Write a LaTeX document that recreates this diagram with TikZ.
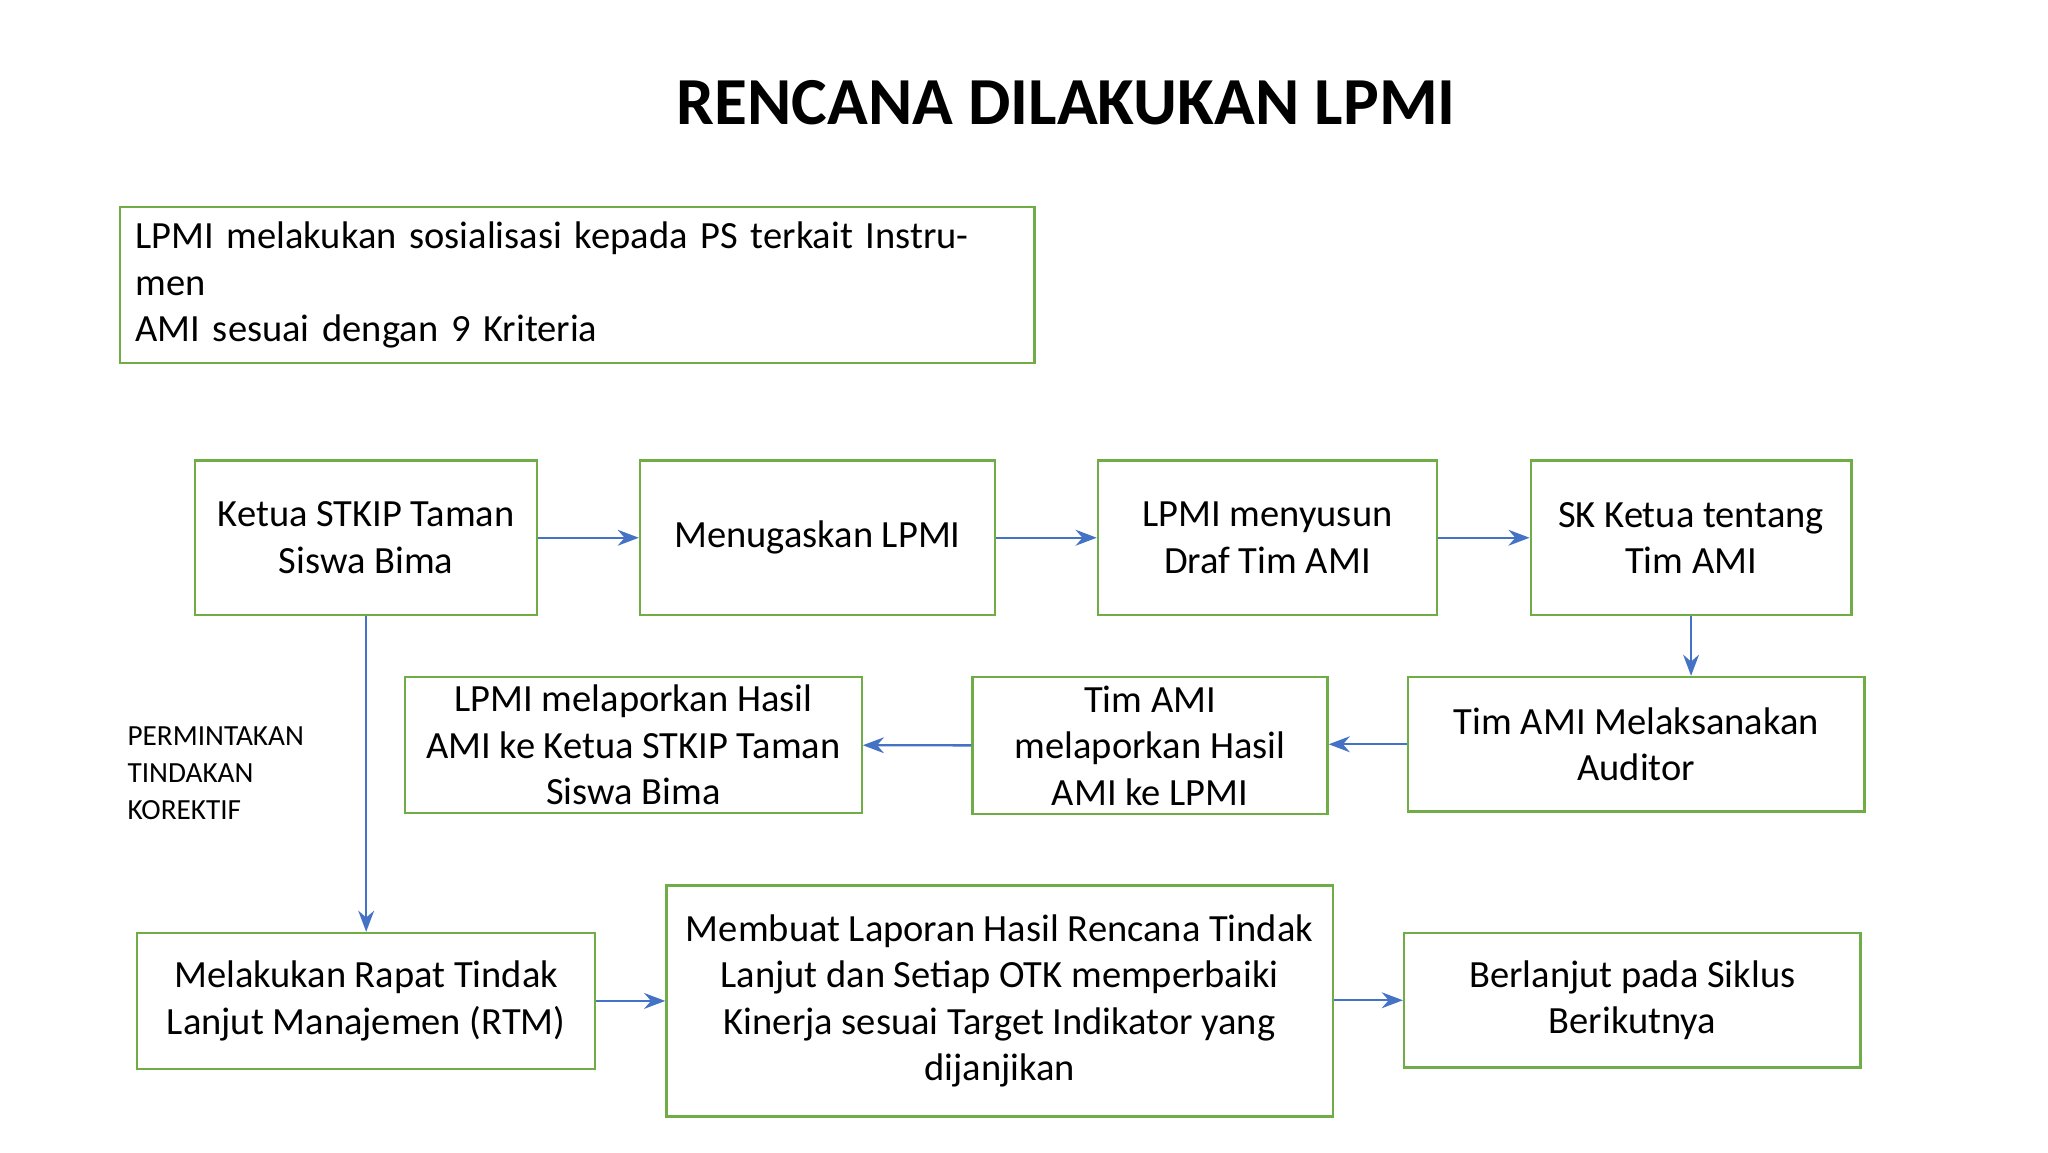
\documentclass[tikz,border=0pt]{standalone}
\usepackage{fontspec}
\setmainfont{Carlito}
\usetikzlibrary{arrows.meta}
\definecolor{gb}{RGB}{112,173,71}
\definecolor{ab}{RGB}{68,114,196}
\begin{document}
\begin{tikzpicture}[x=0.1mm,y=-0.1mm,
  box/.style={draw=gb,line width=0.5pt,align=center,inner sep=0pt,font=\fontsize{8.3pt}{10pt}\selectfont},
  arr/.style={draw=ab,line width=0.5pt,-{Stealth[length=1.6mm,width=1.2mm]}}]
\useasboundingbox[fill=white] (0,0) rectangle (1552,873);
\node[font=\fontsize{14.5pt}{17pt}\selectfont\bfseries] (t) at (808,78) {RENCANA DILAKUKAN LPMI};
\node[box,minimum width=69.3mm,minimum height=11.8mm,align=left,text width=67mm] (a) at (437.5,216) {LPMI melakukan sosialisasi kepada PS terkait Instrumen\\AMI sesuai dengan 9 Kriteria};
\node[box,minimum width=25.9mm,minimum height=11.7mm] (b1) at (277.5,407.5) {Ketua STKIP Taman\\Siswa Bima};
\node[box,minimum width=26.9mm,minimum height=11.7mm] (b2) at (619.5,407.5) {Menugaskan LPMI};
\node[box,minimum width=25.7mm,minimum height=11.7mm] (b3) at (960.5,407.5) {LPMI menyusun\\Draf Tim AMI};
\node[box,minimum width=24.3mm,minimum height=11.7mm] (b4) at (1281.5,407.5) {SK Ketua tentang\\Tim AMI};
\node[box,minimum width=34.6mm,minimum height=10.2mm] (c3) at (1240,564) {Tim AMI Melaksanakan\\Auditor};
\node[box,minimum width=26.9mm,minimum height=10.4mm] (c2) at (871.5,565) {Tim AMI\\melaporkan Hasil\\AMI ke LPMI};
\node[box,minimum width=34.6mm,minimum height=10.3mm] (c1) at (480,564.5) {LPMI melaporkan Hasil\\AMI ke Ketua STKIP Taman\\Siswa Bima};
\node[box,minimum width=34.7mm,minimum height=10.3mm] (d1) at (277.5,758.5) {Melakukan Rapat Tindak\\Lanjut Manajemen (RTM)};
\node[box,minimum width=50.5mm,minimum height=17.5mm] (d2) at (757.5,758.5) {Membuat Laporan Hasil Rencana Tindak\\Lanjut dan Setiap OTK memperbaiki\\Kinerja sesuai Target Indikator yang\\dijanjikan};
\node[box,minimum width=34.6mm,minimum height=10.2mm] (d3) at (1237,758) {Berlanjut pada Siklus\\Berikutnya};
\node[align=left,anchor=north west,inner sep=0pt,font=\fontsize{6.3pt}{8pt}\selectfont] (lbl) at (96,550) {PERMINTAKAN\\TINDAKAN\\KOREKTIF};
\draw[arr] (b1) -- (b2);
\draw[arr] (b2) -- (b3);
\draw[arr] (b3) -- (b4);
\draw[arr] (b4.south) -- (b4.south |- c3.north);
\draw[arr] (c3.west) -- (c3.west -| c2.east);
\draw[arr] (c2) -- (c1);
\draw[arr] (b1) -- (d1);
\draw[arr] (d1) -- (d2);
\draw[arr] (d2.east |- d3.west) -- (d3.west);
\end{tikzpicture}
\end{document}
